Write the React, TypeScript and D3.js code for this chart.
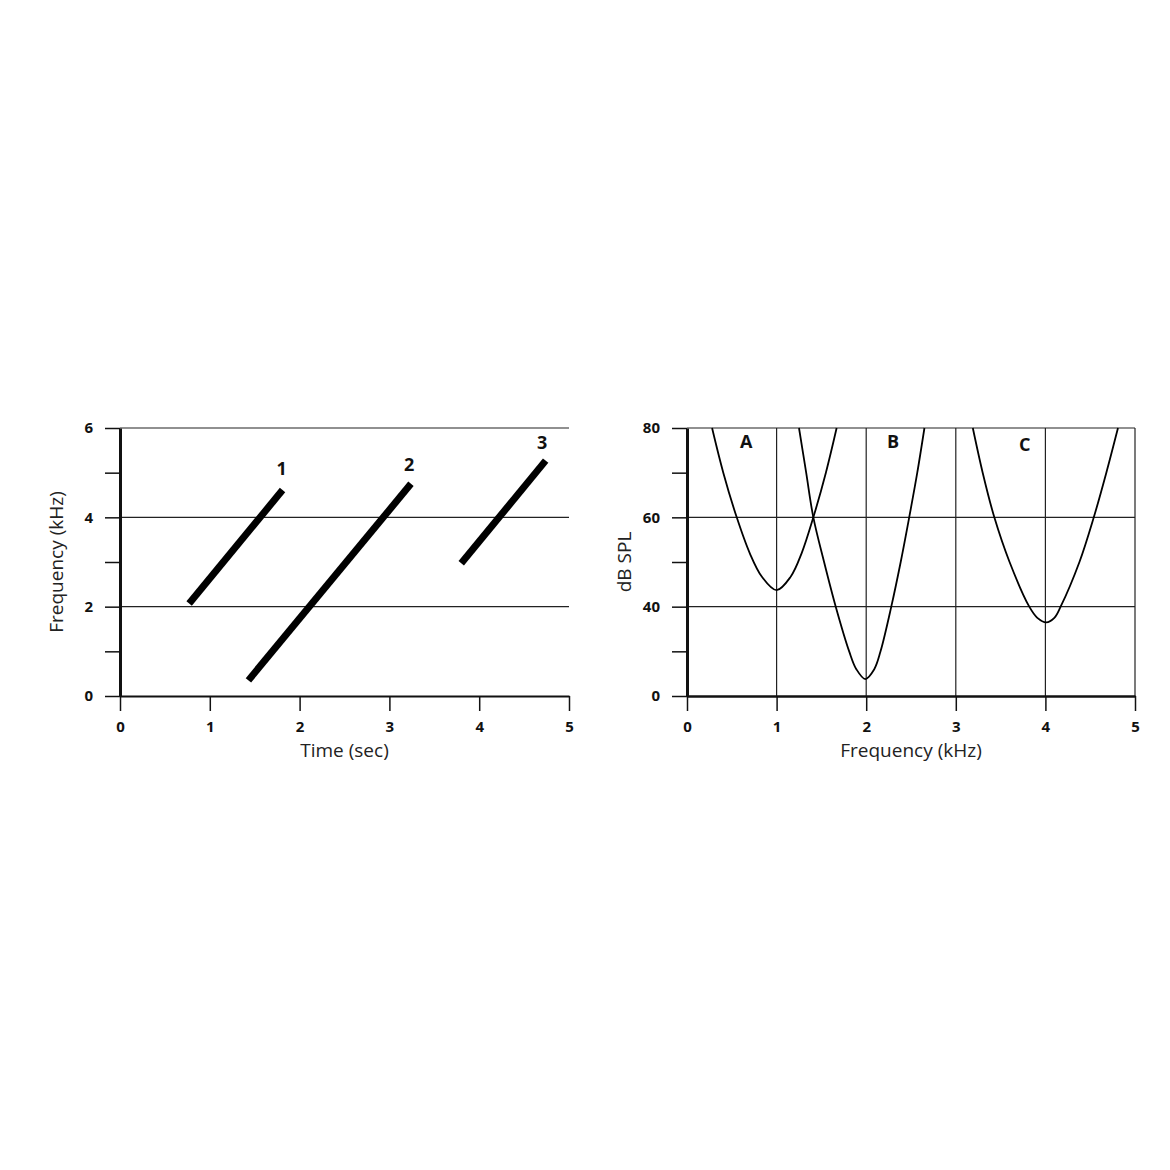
import { useEffect, useRef } from "react";
import * as d3 from "d3";

// Left panel: frequency sweeps over time
const timeTicks = [0, 1, 2, 3, 4, 5];
const sweepFreqTicks = [0, 1, 2, 3, 4, 5, 6];
const sweepFreqLabels = [0, 2, 4, 6];
const sweepGrid = [2, 4, 6];

const sweepNames = ["1", "2", "3"];
const sweepStartTime = [0.77, 1.43, 3.8];
const sweepStartFreq = [2.07, 0.35, 2.97];
const sweepEndTime = [1.81, 3.24, 4.74];
const sweepEndFreq = [4.61, 4.75, 5.27];
const sweepLabelTime = [1.8, 3.22, 4.7];
const sweepLabelFreq = [5.1, 5.19, 5.68];

// Right panel: tuning curves
const freqTicks = [0, 1, 2, 3, 4, 5];
const splTicks = [0, 20, 40, 50, 60, 70, 80];
const splLabels = [0, 40, 60, 80];
const splGrid = [40, 60, 80];
const freqGrid = [1, 2, 3, 4, 5];

const tuningNames = ["A", "B", "C"];
const tuningLabelFreq = [0.66, 2.3, 3.77];
const tuningLabelSpl = [76.9, 76.9, 76.4];
const tuningA: [number, number][] = [
  [0.28, 80], [0.405, 70], [0.555, 60], [0.7, 52], [0.836, 46.7], [1.0, 43.7],
  [1.157, 46.7], [1.28, 52], [1.41, 60], [1.55, 70], [1.67, 80],
];
const tuningB: [number, number][] = [
  [1.25, 80], [1.33, 70], [1.41, 60], [1.53, 50], [1.66, 40], [1.81, 20],
  [1.89, 12], [1.99, 7.6], [2.09, 12], [2.16, 20], [2.28, 40], [2.385, 50],
  [2.48, 60], [2.57, 70], [2.65, 80],
];
const tuningC: [number, number][] = [
  [3.19, 80], [3.3, 70], [3.43, 60], [3.6, 50], [3.82, 40], [3.91, 35],
  [4.01, 33], [4.1, 35], [4.17, 40], [4.38, 50], [4.54, 60], [4.68, 70],
  [4.81, 80],
];

const FONT = "'Open Sans', 'DejaVu Sans', sans-serif";
const INK = "#111";

const App = () => {
  const svgRef = useRef<SVGSVGElement>(null);

  useEffect(() => {
    if (!svgRef.current) return;
    const svg = d3.select(svgRef.current);
    svg.selectAll("*").remove();

    const top = 428;
    const bottom = 696;
    const plotH = bottom - top;

    // shared axis styling
    const styleAxis = (
      g: d3.Selection<SVGGElement, unknown, null, undefined>,
      domainWidth: number
    ) => {
      g.select(".domain").attr("stroke", INK).attr("stroke-width", domainWidth);
      g.selectAll(".tick line").attr("stroke", INK).attr("stroke-width", 1.5);
      g.selectAll(".tick text")
        .attr("fill", INK)
        .style("font-family", FONT)
        .style("font-weight", "bold")
        .style("font-size", "15px");
    };

    const fmt = (labels: number[]) => (d: d3.NumberValue) =>
      labels.includes(+d) ? String(d) : "";

    // ---------- left panel ----------
    const x1 = d3.scaleLinear().domain([0, 5]).range([120, 569]);
    const y1 = d3.scaleLinear().domain([0, 6]).range([bottom, top]);
    const left = svg.append("g");

    left
      .append("g")
      .selectAll("line")
      .data(sweepGrid)
      .join("line")
      .attr("x1", x1(0))
      .attr("x2", x1(5))
      .attr("y1", (d) => y1(d))
      .attr("y2", (d) => y1(d))
      .attr("stroke", "#222")
      .attr("stroke-width", 1.2);

    left
      .append("g")
      .attr("transform", `translate(0,${bottom})`)
      .call(
        d3.axisBottom(x1).tickValues(timeTicks).tickSize(15).tickSizeOuter(0).tickPadding(10)
          .tickFormat(d3.format("d"))
      )
      .call((g) => styleAxis(g, 2.2));

    left
      .append("g")
      .attr("transform", `translate(${x1(0)},0)`)
      .call(
        d3.axisLeft(y1).tickValues(sweepFreqTicks).tickSize(15).tickSizeOuter(0).tickPadding(12)
          .tickFormat(fmt(sweepFreqLabels))
      )
      .call((g) => styleAxis(g, 3));

    left
      .append("g")
      .selectAll("line")
      .data(sweepNames)
      .join("line")
      .attr("x1", (_, i) => x1(sweepStartTime[i]))
      .attr("y1", (_, i) => y1(sweepStartFreq[i]))
      .attr("x2", (_, i) => x1(sweepEndTime[i]))
      .attr("y2", (_, i) => y1(sweepEndFreq[i]))
      .attr("stroke", "#000")
      .attr("stroke-width", 7);

    left
      .append("g")
      .selectAll("text")
      .data(sweepNames)
      .join("text")
      .attr("x", (_, i) => x1(sweepLabelTime[i]))
      .attr("y", (_, i) => y1(sweepLabelFreq[i]))
      .attr("dy", "0.36em")
      .attr("text-anchor", "middle")
      .style("font-family", FONT)
      .style("font-weight", "bold")
      .style("font-size", "18px")
      .attr("fill", INK)
      .text((d) => d);

    left
      .append("text")
      .attr("x", (x1(0) + x1(5)) / 2)
      .attr("y", 757)
      .attr("text-anchor", "middle")
      .style("font-family", FONT)
      .style("font-size", "19px")
      .attr("fill", "#222")
      .text("Time (sec)");

    left
      .append("text")
      .attr("transform", `translate(63,${top + plotH / 2}) rotate(-90)`)
      .attr("text-anchor", "middle")
      .style("font-family", FONT)
      .style("font-size", "19px")
      .attr("fill", "#222")
      .text("Frequency (kHz)");

    // ---------- right panel ----------
    const x2 = d3.scaleLinear().domain([0, 5]).range([687, 1135]);
    const y2 = d3
      .scaleLinear()
      .domain([0, 40, 80])
      .range([bottom, bottom - plotH / 3, top]);
    const right = svg.append("g");

    right
      .append("g")
      .selectAll("line")
      .data(splGrid)
      .join("line")
      .attr("x1", x2(0))
      .attr("x2", x2(5))
      .attr("y1", (d) => y2(d))
      .attr("y2", (d) => y2(d))
      .attr("stroke", "#222")
      .attr("stroke-width", 1.2);

    right
      .append("g")
      .selectAll("line")
      .data(freqGrid)
      .join("line")
      .attr("x1", (d) => x2(d))
      .attr("x2", (d) => x2(d))
      .attr("y1", top)
      .attr("y2", bottom)
      .attr("stroke", "#222")
      .attr("stroke-width", 1.2);

    right
      .append("g")
      .attr("transform", `translate(0,${bottom})`)
      .call(
        d3.axisBottom(x2).tickValues(freqTicks).tickSize(15).tickSizeOuter(0).tickPadding(10)
          .tickFormat(d3.format("d"))
      )
      .call((g) => styleAxis(g, 2.5));

    right
      .append("g")
      .attr("transform", `translate(${x2(0)},0)`)
      .call(
        d3.axisLeft(y2).tickValues(splTicks).tickSize(15).tickSizeOuter(0).tickPadding(12)
          .tickFormat(fmt(splLabels))
      )
      .call((g) => styleAxis(g, 3));

    const curve = d3
      .line<[number, number]>()
      .x((d) => x2(d[0]))
      .y((d) => y2(d[1]))
      .curve(d3.curveCatmullRom.alpha(0.5));

    right
      .append("g")
      .selectAll("path")
      .data([tuningA, tuningB, tuningC])
      .join("path")
      .attr("d", (d) => curve(d))
      .attr("fill", "none")
      .attr("stroke", "#000")
      .attr("stroke-width", 1.8);

    right
      .append("g")
      .selectAll("text")
      .data(tuningNames)
      .join("text")
      .attr("x", (_, i) => x2(tuningLabelFreq[i]))
      .attr("y", (_, i) => y2(tuningLabelSpl[i]))
      .attr("dy", "0.36em")
      .attr("text-anchor", "middle")
      .style("font-family", FONT)
      .style("font-weight", "bold")
      .style("font-size", "18px")
      .attr("fill", INK)
      .text((d) => d);

    right
      .append("text")
      .attr("x", (x2(0) + x2(5)) / 2)
      .attr("y", 757)
      .attr("text-anchor", "middle")
      .style("font-family", FONT)
      .style("font-size", "19px")
      .attr("fill", "#222")
      .text("Frequency (kHz)");

    right
      .append("text")
      .attr("transform", `translate(631,${top + plotH / 2}) rotate(-90)`)
      .attr("text-anchor", "middle")
      .style("font-family", FONT)
      .style("font-size", "19px")
      .attr("fill", "#222")
      .text("dB SPL");
  }, []);

  return (
    <svg
      ref={svgRef}
      width={1170}
      height={1170}
      style={{ position: "absolute", left: 0, top: 0, background: "#fff" }}
    />
  );
};

export default App;
